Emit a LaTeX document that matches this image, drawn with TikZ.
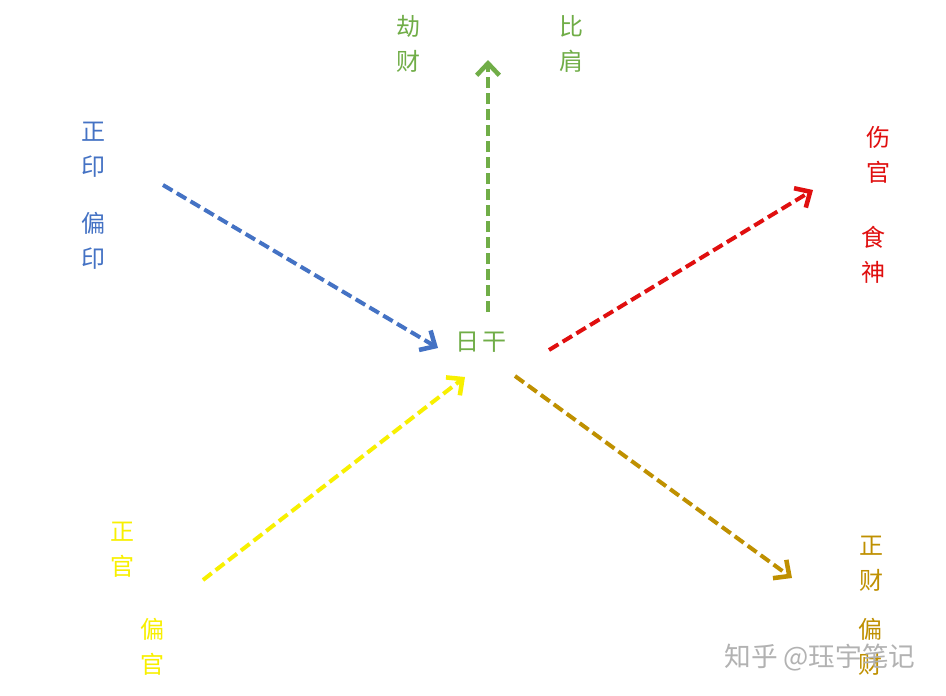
\documentclass[tikz,border=0pt]{standalone}
\usepackage{fontspec}
\setmainfont{Noto Sans CJK SC}
\usetikzlibrary{arrows.meta}
\definecolor{cblue}{HTML}{4472C4}
\definecolor{cred}{HTML}{E00F0F}
\definecolor{cgreen}{HTML}{70AD47}
\definecolor{cyellow}{HTML}{F8F000}
\definecolor{cgold}{HTML}{BF9000}
\begin{document}
\begin{tikzpicture}[x=0.75pt,y=-0.75pt,
  lbl/.style={inner sep=0pt,align=center,font=\fontsize{18}{26.25}\selectfont},
  arr/.style={line width=3pt,dash pattern=on 8.25pt off 3.75pt,-{Straight Barb[length=9pt,width=17pt,line width=3.4pt]}}]
\useasboundingbox (0,0) rectangle (946,696);
\fill[white] (0,0) rectangle (946,696);
% centre
\node[lbl,text=cgreen] (rg) at (481,342) {日\,干};
% green
\node[lbl,text=cgreen] (jc) at (408,44) {劫\\财};
\node[lbl,text=cgreen] (bj) at (571,44) {比\\肩};
\coordinate (gs) at (488,312);
\coordinate (ge) at (488,60);
\draw[arr,cgreen] (gs) -- (ge);
% blue
\node[lbl,text=cblue] (zy) at (93,150) {正\\印};
\node[lbl,text=cblue] (py) at (93,241) {偏\\印};
\coordinate (bs) at (163,185);
\coordinate (be) at (438,348);
\draw[arr,cblue] (bs) -- (be);
% red
\node[lbl,text=cred] (sg) at (878,155) {伤\\官};
\node[lbl,text=cred] (ss) at (873,255) {食\\神};
\coordinate (rs) at (549,350);
\coordinate (re) at (813,190);
\draw[arr,cred] (rs) -- (re);
% yellow
\node[lbl,text=cyellow] (zg) at (122,550) {正\\官};
\node[lbl,text=cyellow] (pg) at (152,647) {偏\\官};
\coordinate (ys) at (203,580);
\coordinate (ye) at (465,377);
\draw[arr,cyellow] (ys) -- (ye);
% gold
\node[lbl,text=cgold] (zc) at (871,564) {正\\财};
\node[lbl,text=cgold] (pc) at (870,647) {偏\\财};
\coordinate (os) at (515,376);
\coordinate (oe) at (792,578);
\draw[arr,cgold] (os) -- (oe);
% watermark
\node[inner sep=0pt,text=black!30,font=\fontsize{20}{24}\selectfont] (wm) at (820,658) {知乎 @珏宇笔记};
\end{tikzpicture}
\end{document}
